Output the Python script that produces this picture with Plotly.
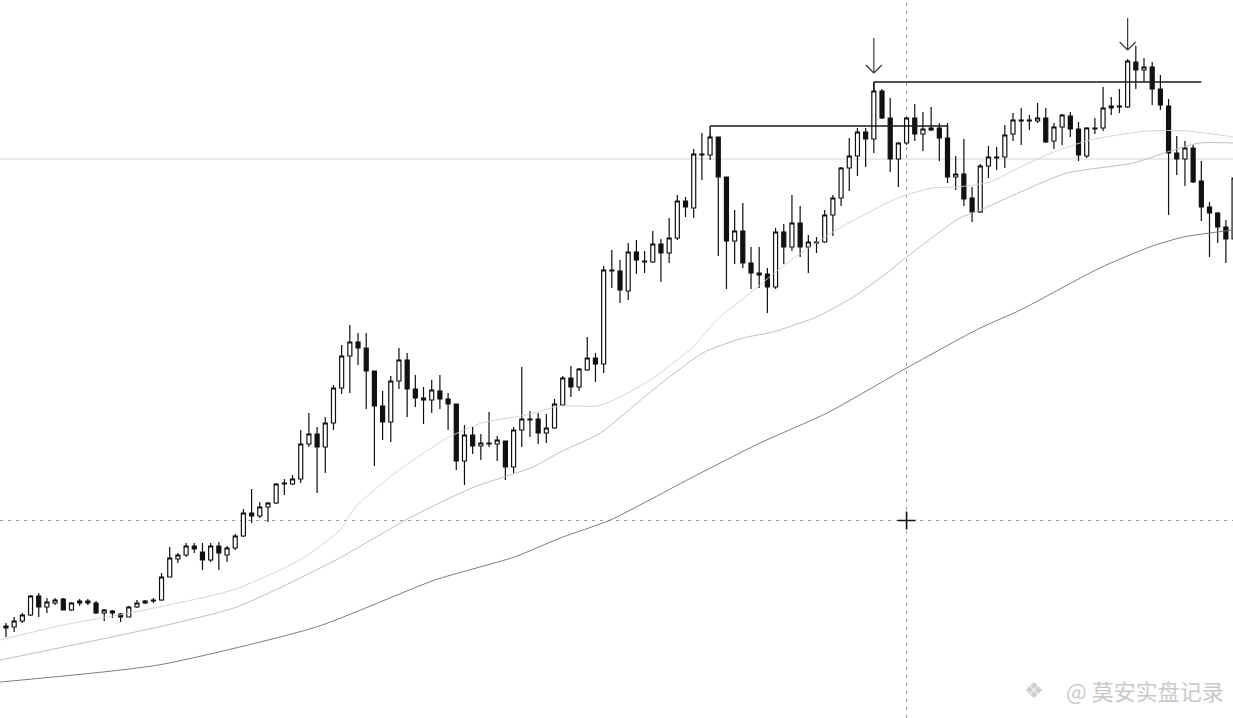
import plotly.graph_objects as go

# ---------------- data (price units) ----------------
idx = list(range(1, 152))

opens = [90, 91, 97, 103, 122, 111, 115, 119, 108, 115,
         117, 115, 105, 107, 104, 101, 111, 115, 117, 118,
         141, 159, 163, 172, 166, 158, 172, 163, 170, 182,
         205, 202, 211, 215, 234, 234, 239, 274, 284, 271,
         295, 330, 362, 376, 370, 347, 312, 296, 337, 358,
         329, 320, 318, 327, 319, 314, 257, 283, 272, 274,
         274, 277, 251, 288, 298, 299, 285, 290, 313, 340,
         331, 348, 360, 354, 447, 447, 427, 466, 457, 456,
         474, 465, 480, 517, 510, 563, 563, 581, 541, 477,
         487, 455, 445, 444, 431, 486, 471, 495, 471, 475,
         476, 503, 520, 550, 562, 586, 579, 627, 600, 559,
         575, 600, 584, 590, 590, 580, 541, 544, 520, 506,
         552, 560, 561, 584, 597, 597, 597, 600, 577, 591,
         602, 589, 562, 589, 590, 610, 611, 611, 656, 648,
         651, 629, 612, 565, 559, 570, 537, 511, 505, 491,
         479]

closes = [92, 97, 103, 122, 111, 116, 118, 108, 115, 117,
          115, 105, 108, 105, 101, 111, 115, 117, 118, 141,
          160, 163, 172, 169, 158, 172, 165, 170, 182, 205,
          202, 211, 215, 234, 235, 239, 274, 284, 271, 295,
          330, 362, 376, 370, 347, 312, 296, 337, 358, 329,
          320, 318, 328, 319, 314, 257, 283, 272, 275, 275,
          278, 251, 288, 299, 299, 285, 290, 314, 340, 331,
          349, 360, 354, 448, 448, 428, 466, 458, 456, 474,
          465, 480, 517, 511, 564, 564, 581, 541, 477, 487,
          455, 445, 443, 431, 486, 471, 495, 471, 476, 476,
          503, 520, 550, 562, 586, 579, 627, 600, 559, 575,
          600, 584, 589, 588, 580, 541, 544, 519, 506, 552,
          561, 561, 583, 598, 598, 598, 600, 576, 591, 603,
          589, 563, 590, 590, 610, 612, 612, 657, 648, 651,
          629, 613, 565, 559, 570, 536, 511, 505, 491, 479,
          540]

highs = [95, 101, 105, 123, 125, 120, 120, 120, 116, 119,
         119, 117, 109, 108, 105, 112, 118, 118, 120, 145,
         171, 165, 175, 175, 175, 175, 176, 172, 184, 209,
         229, 216, 216, 235, 239, 243, 288, 305, 291, 301,
         333, 373, 393, 385, 385, 347, 327, 342, 370, 365,
         343, 331, 338, 343, 325, 314, 293, 291, 284, 306,
         282, 277, 291, 351, 307, 305, 304, 319, 342, 352,
         350, 381, 365, 452, 468, 458, 475, 478, 467, 487,
         479, 500, 523, 521, 569, 585, 583, 581, 541, 508,
         515, 471, 471, 450, 490, 494, 523, 512, 483, 481,
         508, 523, 551, 580, 590, 590, 635, 629, 620, 576,
         601, 614, 606, 611, 595, 595, 562, 579, 531, 554,
         572, 571, 593, 605, 610, 603, 615, 610, 595, 604,
         606, 596, 591, 600, 631, 621, 629, 659, 672, 660,
         656, 643, 619, 582, 577, 573, 557, 516, 506, 498,
         543]

lows = [81, 86, 95, 102, 101, 105, 113, 108, 107, 112,
        113, 104, 97, 100, 96, 101, 110, 114, 115, 117,
        141, 155, 161, 165, 148, 156, 148, 156, 168, 181,
        195, 200, 196, 214, 223, 233, 235, 271, 225, 245,
        288, 324, 325, 353, 309, 252, 278, 276, 329, 301,
        311, 294, 305, 309, 288, 248, 233, 264, 258, 271,
        257, 238, 245, 271, 281, 274, 275, 289, 312, 321,
        327, 347, 336, 345, 430, 415, 418, 444, 445, 455,
        436, 455, 478, 501, 500, 538, 558, 462, 429, 454,
        450, 429, 430, 405, 429, 454, 467, 461, 445, 465,
        475, 482, 512, 527, 542, 551, 565, 599, 546, 531,
        573, 577, 567, 587, 557, 535, 528, 512, 496, 505,
        540, 548, 550, 577, 573, 588, 595, 575, 569, 573,
        581, 557, 560, 584, 587, 603, 605, 610, 629, 636,
        613, 608, 503, 543, 532, 535, 497, 461, 475, 455,
        478]

# moving averages, read at sampled bar positions
ma_fast_x = [0.3, 8.0, 16.1, 28.7, 36.9, 41.8, 43.7, 48.5, 54.9, 59.1, 64.5, 68.7,
             73.2, 76.0, 79.7, 84.9, 87.8, 91.9, 96.4, 102.0, 106.2, 110.2, 114.2,
             117.2, 121.2, 124.9, 129.0, 133.4, 140.4, 145.3, 150.9]
ma_fast_y = [78, 93, 105, 128, 158, 188, 211, 245, 280, 295, 303, 312,
             312, 321, 338, 371, 398, 425, 455, 486, 505, 521, 530,
             531, 536, 551, 566, 578, 587, 587, 581]

ma_mid_x = [0.3, 19.6, 29.2, 41.3, 50.5, 58.2, 65.4, 68.7, 73.6, 80.0, 86.1, 91.0,
            94.7, 98.0, 100.0, 104.5, 108.6, 111.0, 114.2, 117.5, 120.0, 124.9,
            130.6, 138.7, 142.8, 146.8, 150.9]
ma_mid_y = [58, 91, 111, 158, 201, 231, 251, 266, 285, 328, 365, 380,
            386, 395, 401, 421, 445, 461, 481, 500, 508, 526,
            545, 555, 566, 575, 575]

ma_slow_x = [0.3, 19.6, 38.9, 53.4, 63.1, 68.7, 74.8, 84.9, 93.1, 101.3, 111.0,
             120.0, 124.9, 134.6, 140.7, 144.8, 150.9]
ma_slow_y = [36, 53, 91, 138, 161, 180, 198, 241, 275, 305, 350,
             390, 408, 450, 471, 481, 488]

ref_level = 559                 # thin grey horizontal level
cross_bar, cross_price = 111.0, 197.5

res_levels = [592, 636]
res_start = [87, 107]
res_end = [116, 147]

arrow_bars = [107, 138]
arrow_tips = [645, 668]
arrow_tails = [680, 700]

X_RANGE = [0.27, 150.87]
Y_RANGE = [0, 718]

# ---------------- figure ----------------
fig = go.Figure()

fig.add_trace(go.Scatter(x=ma_slow_x, y=ma_slow_y, mode="lines",
                         line=dict(color="#6e6e6e", width=0.9, shape="spline", smoothing=0.6),
                         hoverinfo="skip", showlegend=False))
fig.add_trace(go.Scatter(x=ma_mid_x, y=ma_mid_y, mode="lines",
                         line=dict(color="#b8b8b8", width=0.9, shape="spline", smoothing=0.6),
                         hoverinfo="skip", showlegend=False))
fig.add_trace(go.Scatter(x=ma_fast_x, y=ma_fast_y, mode="lines",
                         line=dict(color="#d0d0d0", width=0.9, shape="spline", smoothing=0.6),
                         hoverinfo="skip", showlegend=False))

fig.add_trace(go.Candlestick(
    x=idx, open=opens, high=highs, low=lows, close=closes,
    increasing=dict(line=dict(color="#111111", width=1.2), fillcolor="#ffffff"),
    decreasing=dict(line=dict(color="#111111", width=1.2), fillcolor="#111111"),
    whiskerwidth=0, hoverinfo="skip", showlegend=False))

shapes = []
# grey horizontal level
shapes.append(dict(type="line", xref="paper", x0=0, x1=1, yref="y", y0=ref_level, y1=ref_level,
                   line=dict(color="#d4d4d4", width=1), layer="below"))
# crosshair dashed lines
shapes.append(dict(type="line", xref="x", x0=cross_bar, x1=cross_bar, yref="paper", y0=0, y1=1,
                   line=dict(color="#9a9a9a", width=1, dash="3px,5px"), layer="below"))
shapes.append(dict(type="line", xref="paper", x0=0, x1=1, yref="y", y0=cross_price, y1=cross_price,
                   line=dict(color="#9a9a9a", width=1, dash="3px,5px"), layer="below"))
# resistance lines with ticks
tick_ends = [[closes[res_start[0] - 1], opens[res_end[0] - 1]], [closes[res_start[1] - 1], None]]
for lvl, s, e, te in zip(res_levels, res_start, res_end, tick_ends):
    shapes.append(dict(type="line", x0=s, x1=e, y0=lvl, y1=lvl,
                       line=dict(color="#1a1a1a", width=1.5)))
    if te[0] is not None:
        shapes.append(dict(type="line", x0=s, x1=s, y0=lvl, y1=te[0],
                           line=dict(color="#1a1a1a", width=1.5)))
    if te[1] is not None:
        shapes.append(dict(type="line", x0=e, x1=e, y0=lvl, y1=te[1],
                           line=dict(color="#1a1a1a", width=1.5)))
# arrows (open V head)
bar_w = (X_RANGE[1] - X_RANGE[0]) / 1233.0
for b, tip, tail in zip(arrow_bars, arrow_tips, arrow_tails):
    shapes.append(dict(type="line", x0=b, x1=b, y0=tail, y1=tip,
                       line=dict(color="#3a3a3a", width=1.2)))
    for sgn in (-1, 1):
        shapes.append(dict(type="line", x0=b + sgn * 8 * bar_w, x1=b, y0=tip + 8, y1=tip,
                           line=dict(color="#3a3a3a", width=1.2)))
fig.update_layout(shapes=shapes)

# crosshair centre
fig.add_trace(go.Scatter(x=[cross_bar], y=[cross_price], mode="markers",
                         marker=dict(symbol="cross-thin", size=13,
                                     line=dict(color="#111111", width=1.6)),
                         hoverinfo="skip", showlegend=False))

# watermark
fig.add_annotation(xref="paper", yref="paper", x=1034 / 1233, y=1 - 690 / 718,
                   xanchor="center", yanchor="middle",
                   text="❖", showarrow=False, font=dict(size=22, color="#cfcfcf",
                                                         family="DejaVu Sans"))
fig.add_annotation(xref="paper", yref="paper", x=1226 / 1233, y=1 - 690 / 718,
                   xanchor="right", yanchor="middle", text="@ 莫安实盘记录", showarrow=False,
                   font=dict(size=22, color="#c9c9c9", family="Noto Sans CJK SC"))

fig.update_layout(
    width=1233, height=718,
    margin=dict(l=0, r=0, t=0, b=0),
    paper_bgcolor="#ffffff", plot_bgcolor="#ffffff",
    boxgap=0.3,
    xaxis=dict(range=X_RANGE, visible=False, rangeslider=dict(visible=False), fixedrange=True),
    yaxis=dict(range=Y_RANGE, visible=False, fixedrange=True),
    hovermode=False,
)

fig.write_html("out.html", config=dict(displayModeBar=False, staticPlot=True),
               post_script="document.body.style.margin='0';document.body.style.overflow='hidden';")
